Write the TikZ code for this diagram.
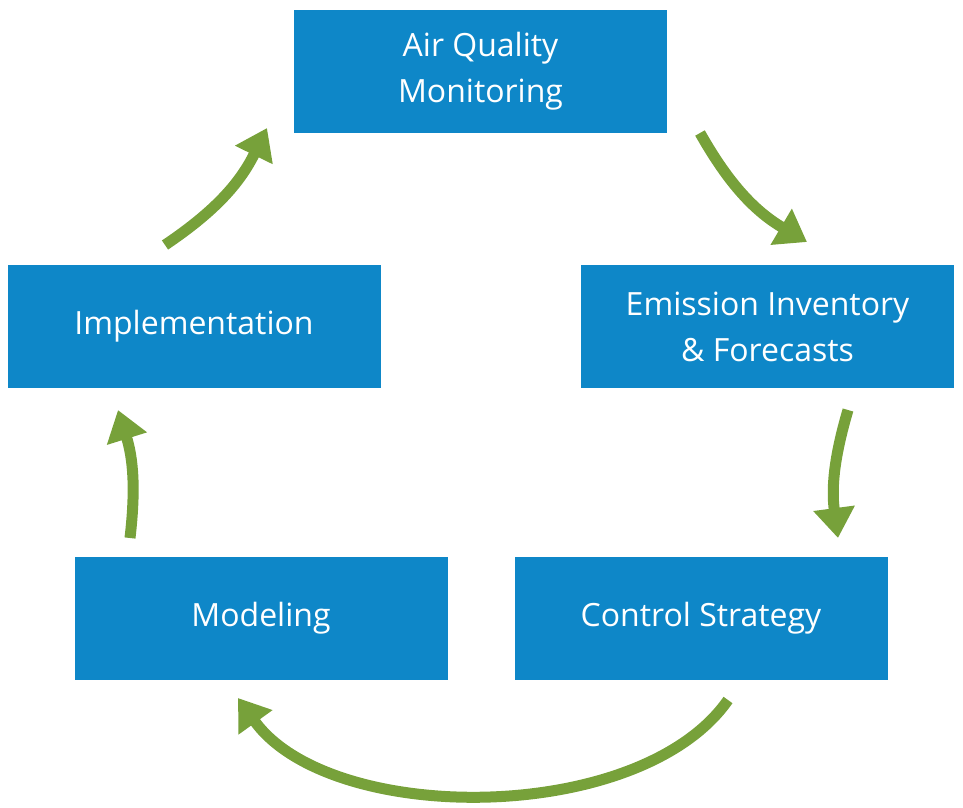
\documentclass[tikz,border=0pt]{standalone}
\usepackage{fontspec}
\setmainfont{Open Sans}
\usetikzlibrary{arrows.meta}
\definecolor{boxblue}{HTML}{0E87C8}
\definecolor{arrgreen}{HTML}{77A13A}
\begin{document}
\begin{tikzpicture}[x=1pt,y=-1pt,
  box/.style={fill=boxblue,minimum width=373pt,minimum height=123pt,inner sep=0pt,
    text=white,align=center,font=\fontsize{32}{46}\selectfont},
  arr/.style={draw=arrgreen,line width=11pt,-{Triangle[width=40pt,length=30pt]}}]
\useasboundingbox (0,0) rectangle (963,807);
\node[box] (aqm) at (480.5,71) {Air Quality\\Monitoring};
\node[box] (emi) at (767.5,326.5) {Emission Inventory\\\& Forecasts};
\node[box] (ctl) at (701,618.5) {Control Strategy};
\node[box] (mod) at (261,618.5) {Modeling};
\node[box] (imp) at (194,326.5) {Implementation};
\coordinate (a1) at (700,133); \coordinate (b1) at (807,242);
\coordinate (a2) at (848,410); \coordinate (b2) at (838,538);
\coordinate (a3) at (728,700); \coordinate (b3) at (238,698);
\coordinate (a4) at (130,538); \coordinate (b4) at (118,410);
\coordinate (a5) at (165,245); \coordinate (b5) at (267,128);
\draw[arr] (a1) to[bend right=15] (b1);
\draw[arr] (a2) to[bend right=12] (b2);
\draw[arr] (a3) .. controls (640,826) and (330,826) .. (b3);
\draw[arr] (a4) to[bend right=12] (b4);
\draw[arr] (a5) to[bend right=15] (b5);
\end{tikzpicture}
\end{document}
